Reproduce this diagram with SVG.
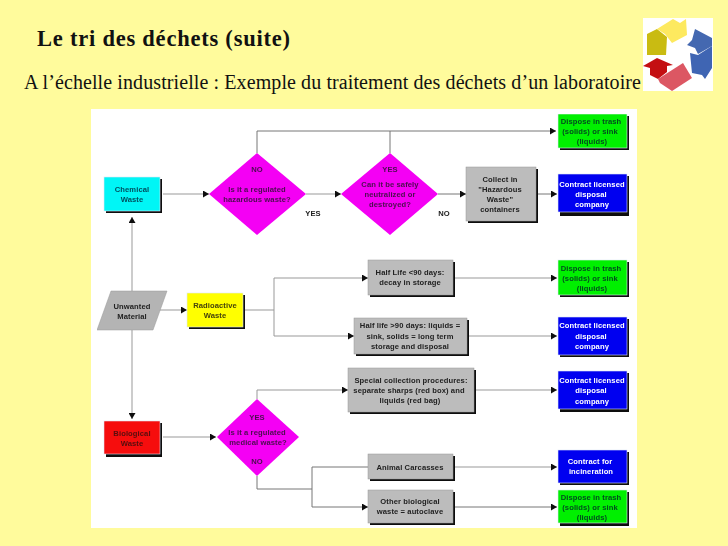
<svg xmlns="http://www.w3.org/2000/svg" width="728" height="546" viewBox="0 0 728 546">
<style>
.title{font-family:"Liberation Serif",serif;fill:#111}
.t{font-family:"Liberation Sans",Arial,sans-serif;font-size:7.6px;font-weight:bold;text-anchor:middle;letter-spacing:.1px}
.s{fill:#111}
.b{stroke:#dfe8f5;stroke-width:.6}
.l{fill:none;stroke:#999;stroke-width:1}
.d{fill:none;stroke:#777;stroke-width:1}
.tk{fill:#222}.tw{fill:#fff}.tg{fill:#064d1e}.tc{fill:#064e5e}.tm{fill:#4a0c4e}.tr{fill:#560a0d}.ty{fill:#45430a}
</style>
<defs>
<marker id="a" markerUnits="userSpaceOnUse" markerWidth="7" markerHeight="7" refX="6" refY="3.5" orient="auto"><path d="M0 0L6 3.5L0 7z" fill="#111"/></marker>
<filter id="soft" x="0" y="0" width="100%" height="100%"><feGaussianBlur stdDeviation="0.35"/></filter>
</defs>
<rect width="728" height="546" fill="#FFFB9C"/>
<text class="title" x="37" y="45.500" font-size="22.500" font-weight="bold" textLength="253" lengthAdjust="spacing">Le tri des déchets (suite)</text>
<text class="title" x="24" y="88.500" font-size="20" textLength="617" lengthAdjust="spacing">A l’échelle industrielle : Exemple du traitement des déchets d’un laboratoire</text>
<g id="logo">
<rect x="643" y="18" width="70" height="73" fill="#fff"/>
<path d="M647 34L657 29L667 37L666 55H647z" fill="#c9bb12"/>
<path d="M657 29L673 19L680 23L686 19L687 35L672 43L665 34z" fill="#fde95f"/>
<path d="M695 29L712 38V46L698 54L695 48L687 45L692 40z" fill="#4468b0"/>
<path d="M690 53L698 55L712 46V68L705 79L702 75L692 73z" fill="#3f65b3"/>
<path d="M643 66L657 58L673 65L667 66V72L658 79L650 75V68z" fill="#c40f12"/>
<path d="M658 79L683 63L692 78L672 91L660 83z" fill="#dc5763"/>
</g>
<rect x="91" y="109" width="546" height="419" fill="#fff"/>
<g filter="url(#soft)">
<g id="connectors">
<path class="d" d="M257 153V131H556" marker-end="url(#a)"/>
<path class="d" d="M390 153V131"/>
<path class="l" d="M163 194H209" marker-end="url(#a)"/>
<path class="l" d="M306 194H341" marker-end="url(#a)"/>
<path class="d" d="M438 194H466" marker-end="url(#a)"/>
<path class="d" d="M538 194H557" marker-end="url(#a)"/>
<path class="l" d="M132 291V217" marker-end="url(#a)" stroke-width="1.3"/>
<path class="l" d="M160 310H187" marker-end="url(#a)"/>
<path class="l" d="M245 310H274V278H368" marker-end="url(#a)"/>
<path class="l" d="M274 310V336H354" marker-end="url(#a)"/>
<path class="l" d="M455 278H557" marker-end="url(#a)"/>
<path class="l" d="M469 336H557" marker-end="url(#a)"/>
<path class="l" d="M132 330V419" marker-end="url(#a)"/>
<path class="l" d="M163 437H216" marker-end="url(#a)"/>
<path class="l" d="M257 399V390H348" marker-end="url(#a)"/>
<path class="l" d="M476 390H557" marker-end="url(#a)"/>
<path class="d" d="M257 476V489H312"/>
<path class="d" d="M368 467H312V507H368" marker-end="url(#a)"/>
<path class="l" d="M455 467H557" marker-end="url(#a)"/>
<path class="d" d="M455 507H557" marker-end="url(#a)"/>
</g>
<g id="unwanted"><path d="M111 291H167L153 330H97z" fill="#b4b4b4" stroke="#999" stroke-width=".5"/><text class="t tk" x="132" y="309">Unwanted</text><text class="t tk" x="132" y="319">Material</text></g>
<g id="chemical"><rect class="s" x="106" y="179" width="56" height="34"/><rect class="b" x="104" y="177" width="56" height="34" fill="#00f6f6"/><text class="t tc" x="132" y="192">Chemical</text><text class="t tc" x="132" y="202">Waste</text></g>
<g id="radioactive"><rect class="s" x="189" y="295" width="56" height="34"/><rect class="b" x="187" y="293" width="56" height="34" fill="#ffff00"/><text class="t ty" x="215" y="308">Radioactive</text><text class="t ty" x="215" y="318">Waste</text></g>
<g id="biological"><rect class="s" x="106" y="423" width="56" height="34"/><rect class="b" x="104" y="421" width="56" height="33" fill="#f60808"/><text class="t tr" x="132" y="436">Biological</text><text class="t tr" x="132" y="446">Waste</text></g>
<g id="q1"><path d="M257 153L306 194L257 235L209 194z" fill="#f400f4"/><text class="t tm" x="257" y="172">NO</text><text class="t tm" x="257" y="192">Is it a regulated</text><text class="t tm" x="257" y="202">hazardous waste?</text></g>
<text class="t tk" x="313" y="216">YES</text>
<g id="q2"><path d="M390 153L438 194L390 235L341 194z" fill="#f400f4"/><text class="t tm" x="390" y="172">YES</text><text class="t tm" x="390" y="187">Can it be safely</text><text class="t tm" x="390" y="197">neutralized or</text><text class="t tm" x="390" y="207">destroyed?</text></g>
<text class="t tk" x="444" y="216">NO</text>
<g id="q3"><path d="M257 399L299 437L257 476L217 437z" fill="#f400f4"/><text class="t tm" x="257" y="420">YES</text><text class="t tm" x="257" y="435">Is it a regulated</text><text class="t tm" x="258" y="445">medical waste?</text><text class="t tm" x="257" y="464">NO</text></g>
<g id="collect"><rect class="s" x="468" y="169" width="70" height="54"/><rect x="466" y="167" width="70" height="54" fill="#bcbcbc" stroke="#999" stroke-width=".5"/><text class="t tk" x="500" y="182">Collect in</text><text class="t tk" x="500" y="192">"Hazardous</text><text class="t tk" x="500" y="202">Waste"</text><text class="t tk" x="500" y="212">containers</text></g>
<g id="half1"><rect class="s" x="370" y="262" width="85" height="35"/><rect x="368" y="260" width="85" height="35" fill="#bcbcbc" stroke="#999" stroke-width=".5"/><text class="t tk" x="410" y="275">Half Life &lt;90 days:</text><text class="t tk" x="410" y="285">decay in storage</text></g>
<g id="half2"><rect class="s" x="356" y="320" width="113" height="36"/><rect x="354" y="318" width="113" height="36" fill="#bcbcbc" stroke="#999" stroke-width=".5"/><text class="t tk" x="410" y="328">Half life &gt;90 days: liquids =</text><text class="t tk" x="410" y="339">sink, solids = long term</text><text class="t tk" x="410" y="349">storage and disposal</text></g>
<g id="special"><rect class="s" x="350" y="370" width="126" height="44"/><rect x="348" y="368" width="126" height="44" fill="#bcbcbc" stroke="#999" stroke-width=".5"/><text class="t tk" x="411" y="383">Special collection procedures:</text><text class="t tk" x="409" y="393">separate sharps (red box) and</text><text class="t tk" x="410" y="403">liquids (red bag)</text></g>
<g id="animal"><rect class="s" x="370" y="456" width="85" height="25"/><rect x="368" y="454" width="85" height="25" fill="#bcbcbc" stroke="#999" stroke-width=".5"/><text class="t tk" x="410" y="470">Animal Carcasses</text></g>
<g id="other"><rect class="s" x="370" y="492" width="85" height="33"/><rect x="368" y="490" width="85" height="33" fill="#bcbcbc" stroke="#999" stroke-width=".5"/><text class="t tk" x="410" y="504">Other biological</text><text class="t tk" x="410" y="514">waste = autoclave</text></g>
<g id="green1"><rect class="s" x="560" y="116" width="69" height="34"/><rect class="b" x="558" y="114" width="69" height="34" fill="#00f000"/><text class="t tg" x="591" y="124">Dispose in trash</text><text class="t tg" x="590" y="134">(solids) or sink</text><text class="t tg" x="592" y="144">(liquids)</text></g>
<g id="blue1"><rect class="s" x="560" y="176" width="69" height="40"/><rect class="b" x="558" y="174" width="69" height="38" fill="#0000f0"/><text class="t tw" x="592" y="187">Contract licensed</text><text class="t tw" x="591" y="197">disposal</text><text class="t tw" x="592" y="207">company</text></g>
<g id="green2"><rect class="s" x="560" y="262" width="69" height="35"/><rect class="b" x="558" y="260" width="69" height="35" fill="#00f000"/><text class="t tg" x="591" y="271">Dispose in trash</text><text class="t tg" x="590" y="281">(solids) or sink</text><text class="t tg" x="592" y="291">(liquids)</text></g>
<g id="blue2"><rect class="s" x="560" y="319" width="69" height="38"/><rect class="b" x="558" y="317" width="69" height="38" fill="#0000f0"/><text class="t tw" x="592" y="328">Contract licensed</text><text class="t tw" x="591" y="339">disposal</text><text class="t tw" x="592" y="349">company</text></g>
<g id="blue3"><rect class="s" x="560" y="373" width="69" height="39"/><rect class="b" x="558" y="371" width="69" height="38" fill="#0000f0"/><text class="t tw" x="592" y="383">Contract licensed</text><text class="t tw" x="591" y="393">disposal</text><text class="t tw" x="592" y="404">company</text></g>
<g id="blue4"><rect class="s" x="560" y="452" width="69" height="33"/><rect class="b" x="558" y="450" width="69" height="33" fill="#0000f0"/><text class="t tw" x="590" y="464">Contract for</text><text class="t tw" x="591" y="474">incineration</text></g>
<g id="green3"><rect class="s" x="560" y="492" width="69" height="34"/><rect class="b" x="558" y="490" width="69" height="33" fill="#00f000"/><text class="t tg" x="591" y="500">Dispose in trash</text><text class="t tg" x="590" y="510">(solids) or sink</text><text class="t tg" x="592" y="520">(liquids)</text></g>
</g>
</svg>
